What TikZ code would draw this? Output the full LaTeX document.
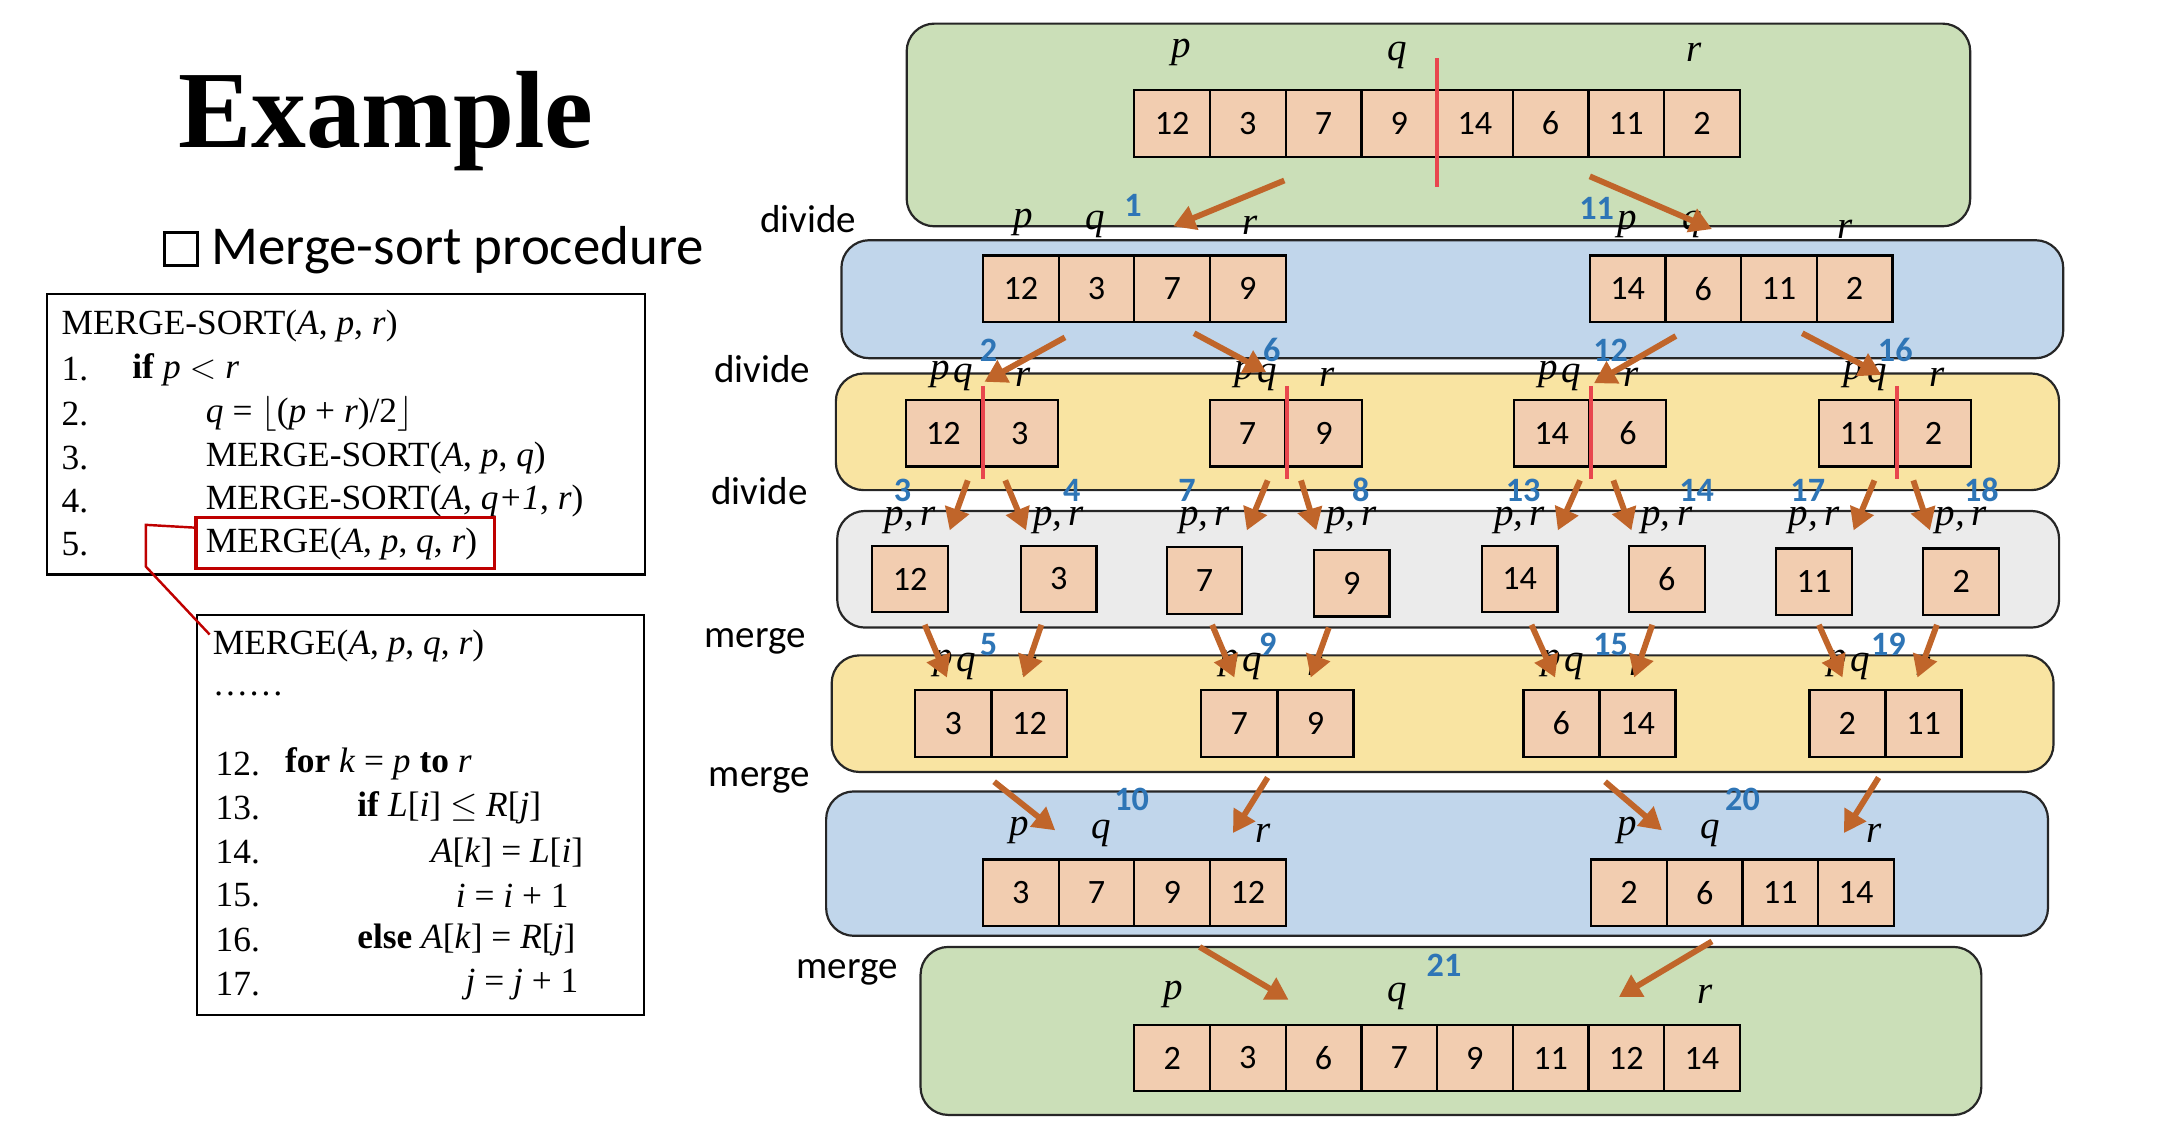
\documentclass[tikz,border=0pt]{standalone}
\usepackage{fontspec}
\setmainfont{Liberation Serif}
\newfontfamily\calfont{Carlito}
\usetikzlibrary{arrows.meta}
\definecolor{cellc}{HTML}{F2CDB0}
\definecolor{arrc}{HTML}{C0652A}
\definecolor{bnum}{HTML}{2E75B6}
\definecolor{gbox}{HTML}{CBDFB8}
\definecolor{bbox}{HTML}{C1D6EB}
\definecolor{ybox}{HTML}{F9E4A2}
\definecolor{kbox}{HTML}{EBEBEB}
\definecolor{redl}{HTML}{E8464E}
\tikzset{
 cell/.style={draw=black,line width=0.9pt,fill=cellc,minimum width=1.09cm,minimum height=0.96cm,inner sep=0pt,font=\calfont\fontsize{14}{14}\selectfont},
 lvl/.style={draw=black!85,line width=0.9pt,rounded corners=0.4cm},
 arr/.style={draw=arrc,line width=2.4pt,-{Triangle[length=9pt,width=10pt]}},
 lab/.style={font=\fontsize{16}{16}\selectfont\itshape,inner sep=0pt},
 bn/.style={font=\calfont\bfseries\fontsize{14}{14}\selectfont,text=bnum,inner sep=0pt},
 stage/.style={font=\calfont\fontsize{16}{16}\selectfont,inner sep=0pt},
 code/.style={anchor=west,inner sep=0pt,font=\fontsize{14.5}{15}\selectfont},
 rl/.style={draw=redl,line width=1.6pt}
}
\newcommand{\arr}[5]{% name, x0, ycenter, width, list
 \foreach \v [count=\i] in {#5} {\node[cell] (#1-\i) at ({#2+(\i-0.5)*#4},#3) {\v};}}
\newcommand{\mybox}{{\setlength{\fboxsep}{0pt}\setlength{\fboxrule}{1.2pt}\fbox{\rule{0pt}{0.55em}\hspace{0.55em}}}}
\begin{document}
\begin{tikzpicture}[x=0.02cm,y=-0.02cm]
\useasboundingbox (0,0) rectangle (1560,808);
% left
\node[font=\bfseries\fontsize{45}{45}\selectfont,inner sep=0pt] (ex) at (278,87) {Example};
\node[font=\calfont\fontsize{22.5}{23}\selectfont,anchor=west,inner sep=0pt] (ms) at (117,180) {\mybox\ Merge-sort procedure};
\node[draw,line width=0.9pt,minimum width=8.62cm,minimum height=4.04cm,anchor=north west,inner sep=0pt] (b1) at (33,211) {};
\node[code] (l0) at (44,235) {MERGE-SORT(\textit{A}, \textit{p}, \textit{r})};
\node[code] (n1) at (44,266) {1.};\node[code] (t1) at (95,266) {\textbf{if} \textit{p} $<$ \textit{r}};
\node[code] (n2) at (44,298) {2.};\node[code] (t2) at (148,298) {\textit{q} = $\lfloor$(\textit{p} + \textit{r})/2$\rfloor$};
\node[code] (n3) at (44,330) {3.};\node[code] (t3) at (148,330) {MERGE-SORT(\textit{A}, \textit{p}, \textit{q})};
\node[code] (n4) at (44,361) {4.};\node[code] (t4) at (148,361) {MERGE-SORT(\textit{A}, \textit{q+1}, \textit{r})};
\node[code] (n5) at (44,392) {5.};\node[code] (t5) at (148,392) {MERGE(\textit{A}, \textit{p}, \textit{q}, \textit{r})};
\node[draw=red!75!black,line width=1.3pt,minimum width=4.3cm,minimum height=0.74cm,anchor=west,inner sep=0pt] (rb) at (140,391) {};
\node[draw,line width=0.9pt,minimum width=6.44cm,minimum height=5.76cm,anchor=north west,inner sep=0pt] (b2) at (141,442) {};
\coordinate (c1) at (105,378); \coordinate (c2) at (105,408); \coordinate (c3) at (151,457);
\draw[red!75!black,line width=1pt] (rb.west|-140,380) -- (c1) -- (c2) -- (c3);
\node[code] (m0) at (153,465) {MERGE(\textit{A}, \textit{p}, \textit{q}, \textit{r})};
\node[code] (m1) at (153,500) {\dots\dots};
\node[code] (k12) at (155,550) {12.};\node[code] (s12) at (205,550) {\textbf{for} \textit{k} = \textit{p} \textbf{to} \textit{r}};
\node[code] (k13) at (155,582) {13.};\node[code] (s13) at (257,582) {\textbf{if} \textit{L}[\textit{i}] $\leq$ \textit{R}[\textit{j}]};
\node[code] (k14) at (155,614) {14.};\node[code] (s14) at (310,614) {\textit{A}[\textit{k}] = \textit{L}[\textit{i}]};
\node[code] (k15) at (155,645) {15.};\node[code] (s15) at (328,645) {\textit{i} = \textit{i} + 1};
\node[code] (k16) at (155,677) {16.};\node[code] (s16) at (257,677) {\textbf{else} \textit{A}[\textit{k}] = \textit{R}[\textit{j}]};
\node[code] (k17) at (155,709) {17.};\node[code] (s17) at (335,709) {\textit{j} = \textit{j} + 1};
% level boxes
\draw[lvl,fill=gbox] (653,17) rectangle (1419,163);
\draw[lvl,fill=bbox] (606,173) rectangle (1486,258);
\draw[lvl,fill=ybox] (602,269) rectangle (1483,353);
\draw[lvl,fill=kbox] (603,368) rectangle (1483,452);
\draw[lvl,fill=ybox] (599,472) rectangle (1479,556);
\draw[lvl,fill=bbox] (595,570) rectangle (1475,674);
\draw[lvl,fill=gbox] (663,682) rectangle (1427,803);
% stage labels
\node[stage] (d1) at (582,158) {divide};
\node[stage] (d2) at (549,266) {divide};
\node[stage] (d3) at (547,354) {divide};
\node[stage] (g1) at (544,462) {merge};
\node[stage] (g2) at (547,562) {merge};
\node[stage] (g3) at (610,700) {merge};
% level 1
\arr{A}{817}{89}{54.5}{12,3,7,9,14,6,11,2}
\node[lab] (Ap) at (851,38) {p};\node[lab] (Aq) at (1006,40) {q};\node[lab] (Ar) at (1220,38) {r};
\coordinate (Rt) at (1035,42);\coordinate (Rb) at (1035,135);
\draw[rl] (Rt) -- (Rb);
% level 2
\arr{B}{708}{208}{54.5}{12,3,7,9}
\arr{C}{1145}{208}{54.5}{14,6,11,2}
\node[lab] (Bp) at (737,160) {p};\node[lab] (Bq) at (789,162) {q};\node[lab] (Br) at (900,162) {r};
\node[lab] (Cp) at (1172,162) {p};\node[lab] (Cq) at (1219,162) {q};\node[lab] (Cr) at (1329,165) {r};
\node[bn] (n1b) at (816,148) {1};\node[bn] (n11) at (1150,150) {11};
% level 3
\foreach \nm/\x/\a/\b/\t/\tx in {D/652/12/3/2/712,E/871/7/9/6/916,F/1090/14/6/12/1160,G/1310/11/2/16/1365}{
 \arr{\nm}{\x}{312}{55}{\a,\b}
 \node[lab] (\nm p) at (\x+25,270) {p};\node[lab] (\nm q) at (\x+42,272) {q};\node[lab] (\nm r) at (\x+85,272) {r};
 \node[bn] (\nm n) at (\tx,252) {\t};
 \coordinate (\nm t) at (\x+56,278);\coordinate (\nm b) at (\x+56,345);
 \draw[rl] (\nm t) -- (\nm b);
}
% level 4
\foreach \nm/\x/\y/\v/\t/\tx in {H1/628/417/12/3/650,H2/735/417/3/4/772,H3/840/418/7/7/855,H4/946/420/9/8/980,H5/1067/417/14/13/1097,H6/1173/417/6/14/1222,H7/1279/419/11/17/1302,H8/1385/419/2/18/1427}{
 \node[cell] (\nm) at (\x+27.5,\y) {\v};
 \node[lab] (\nm l) at (\x+27.5,375) {p,\,r};
 \node[bn] (\nm n) at (\tx,353) {\t};
}
% level 5
\foreach \nm/\x/\a/\b/\t/\tx in {I/659/3/12/5/712,J/865/7/9/9/913,K/1097/6/14/15/1160,L/1303/2/11/19/1360}{
 \arr{\nm}{\x}{521}{55}{\a,\b}
 \node[lab] (\nm p) at (\x+20,478) {p};\node[lab] (\nm q) at (\x+37,480) {q};\node[lab] (\nm r) at (\x+82,480) {r};
 \node[bn] (\nm n) at (\tx,464) {\t};
}
% level 6
\arr{M}{708}{643}{54.5}{3,7,9,12}
\arr{N}{1146}{643}{54.5}{2,6,11,14}
\node[lab] (Mp) at (734,598) {p};\node[lab] (Mq) at (793,600) {q};\node[lab] (Mr) at (910,600) {r};
\node[lab] (Np) at (1172,598) {p};\node[lab] (Nq) at (1232,600) {q};\node[lab] (Nr) at (1350,600) {r};
\node[bn] (n10) at (815,576) {10};\node[bn] (n20) at (1255,576) {20};
% level 7
\arr{O}{817}{762}{54.5}{2,3,6,7,9,11,12,14}
\node[lab] (Op) at (845,716) {p};\node[lab] (Oq) at (1006,718) {q};\node[lab] (Or) at (1228,716) {r};
\node[bn] (n21) at (1040,695) {21};
% arrows
\foreach \a/\b/\c/\d [count=\k] in {
 925/130/845/163, 1145/127/1233/165,
 767/243/709/275, 860/240/912/268, 1207/242/1148/276, 1298/240/1355/270,
 697/346/684/382, 724/346/739/382, 913/346/898/382, 937/346/948/382,
 1138/346/1122/382, 1162/346/1175/382, 1350/346/1335/382, 1378/346/1390/382,
 666/450/682/488, 750/450/737/488, 873/450/889/488, 957/452/944/488,
 1103/450/1120/488, 1190/450/1177/488, 1310/450/1327/488, 1395/450/1381/488,
 716/563/760/598, 913/560/888/600, 1156/563/1197/598, 1353/560/1328/600,
 864/682/928/720, 1233/678/1166/718}{
 \coordinate (s\k) at (\a,\b); \coordinate (e\k) at (\c,\d);
 \draw[arr] (s\k) -- (e\k);
}
\end{tikzpicture}
\end{document}
